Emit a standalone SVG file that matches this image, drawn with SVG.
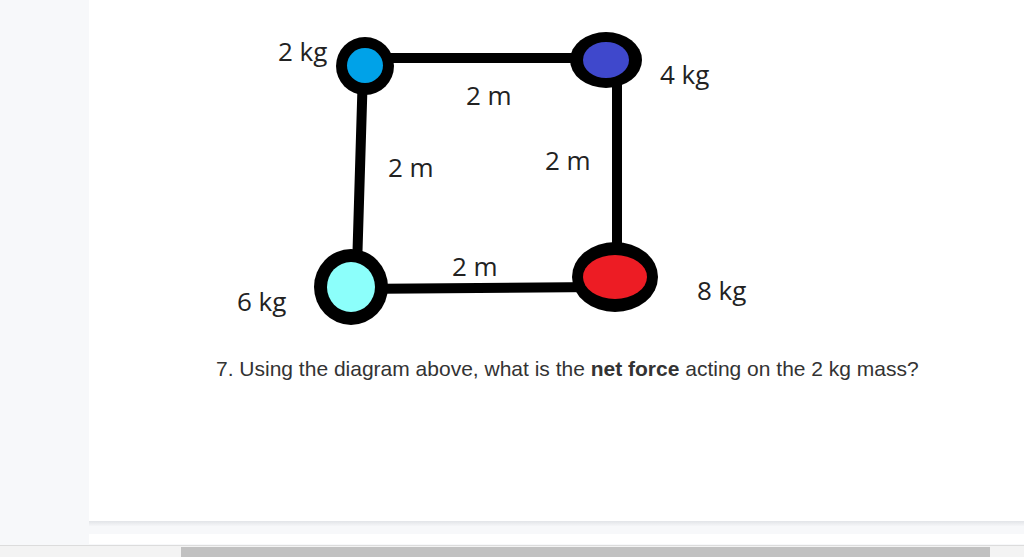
<svg xmlns="http://www.w3.org/2000/svg" width="1024" height="557" viewBox="0 0 1024 557">
<defs>
<style>
.lbl{font-family:"Open Sans","Noto Sans",sans-serif;font-size:26px;fill:#222}
.q{font-family:"Liberation Sans",Arial,sans-serif;font-size:21px;fill:#333}
.edge{stroke:#000;stroke-width:10;stroke-linecap:round;fill:none}
.ring{fill:#000}
</style>
<linearGradient id="sh" x1="0" y1="0" x2="0" y2="1">
<stop offset="0" stop-color="#e2e4e8"/><stop offset="1" stop-color="#f5f6f8"/>
</linearGradient>
</defs>
<rect x="0" y="0" width="1024" height="557" fill="#f7f8fa"/>
<rect x="89" y="0" width="935" height="521" fill="#fff"/>
<rect x="89" y="521" width="935" height="5" fill="url(#sh)"/>
<rect x="89" y="534" width="935" height="10" fill="#fff"/>
<rect x="0" y="545" width="1024" height="12" fill="#f3f3f3"/>
<line x1="0" y1="545.5" x2="1024" y2="545.5" stroke="#dcdcdc"/>
<rect x="181" y="547" width="809" height="10" fill="#c1c1c1"/>
<g id="connectors">
<line class="edge" x1="368" y1="58" x2="606" y2="58"/>
<line class="edge" x1="363" y1="70" x2="357" y2="268"/>
<line class="edge" x1="617" y1="62" x2="617" y2="270"/>
<line class="edge" x1="351" y1="289" x2="600" y2="287"/>
</g>
<g id="m2">
<circle class="ring" cx="365" cy="66" r="29"/>
<ellipse cx="365" cy="65.5" rx="18" ry="17.5" fill="#00a2e8"/>
<text class="lbl" x="278" y="61">2 kg</text>
</g>
<g id="m4">
<ellipse class="ring" cx="606" cy="60" rx="36" ry="28"/>
<ellipse cx="606" cy="60" rx="23" ry="18" fill="#3f48cc"/>
<text class="lbl" x="660" y="84">4 kg</text>
</g>
<g id="m6">
<ellipse class="ring" cx="351" cy="287" rx="37" ry="38"/>
<ellipse cx="351" cy="287" rx="24" ry="25" fill="#8cfffb"/>
<text class="lbl" x="237" y="311">6 kg</text>
</g>
<g id="m8">
<ellipse class="ring" cx="615" cy="277" rx="43" ry="35"/>
<ellipse cx="615" cy="277" rx="32" ry="22" fill="#ed1c24"/>
<text class="lbl" x="697" y="300">8 kg</text>
</g>
<g id="dist">
<text class="lbl" x="466" y="105">2 m</text>
<text class="lbl" x="388" y="177">2 m</text>
<text class="lbl" x="545" y="170">2 m</text>
<text class="lbl" x="452" y="276">2 m</text>
</g>
<g id="question">
<text class="q" x="216" y="376">7. Using the diagram above, what is the <tspan font-weight="bold">net force</tspan> acting on the 2 kg mass?</text>
</g>
</svg>
